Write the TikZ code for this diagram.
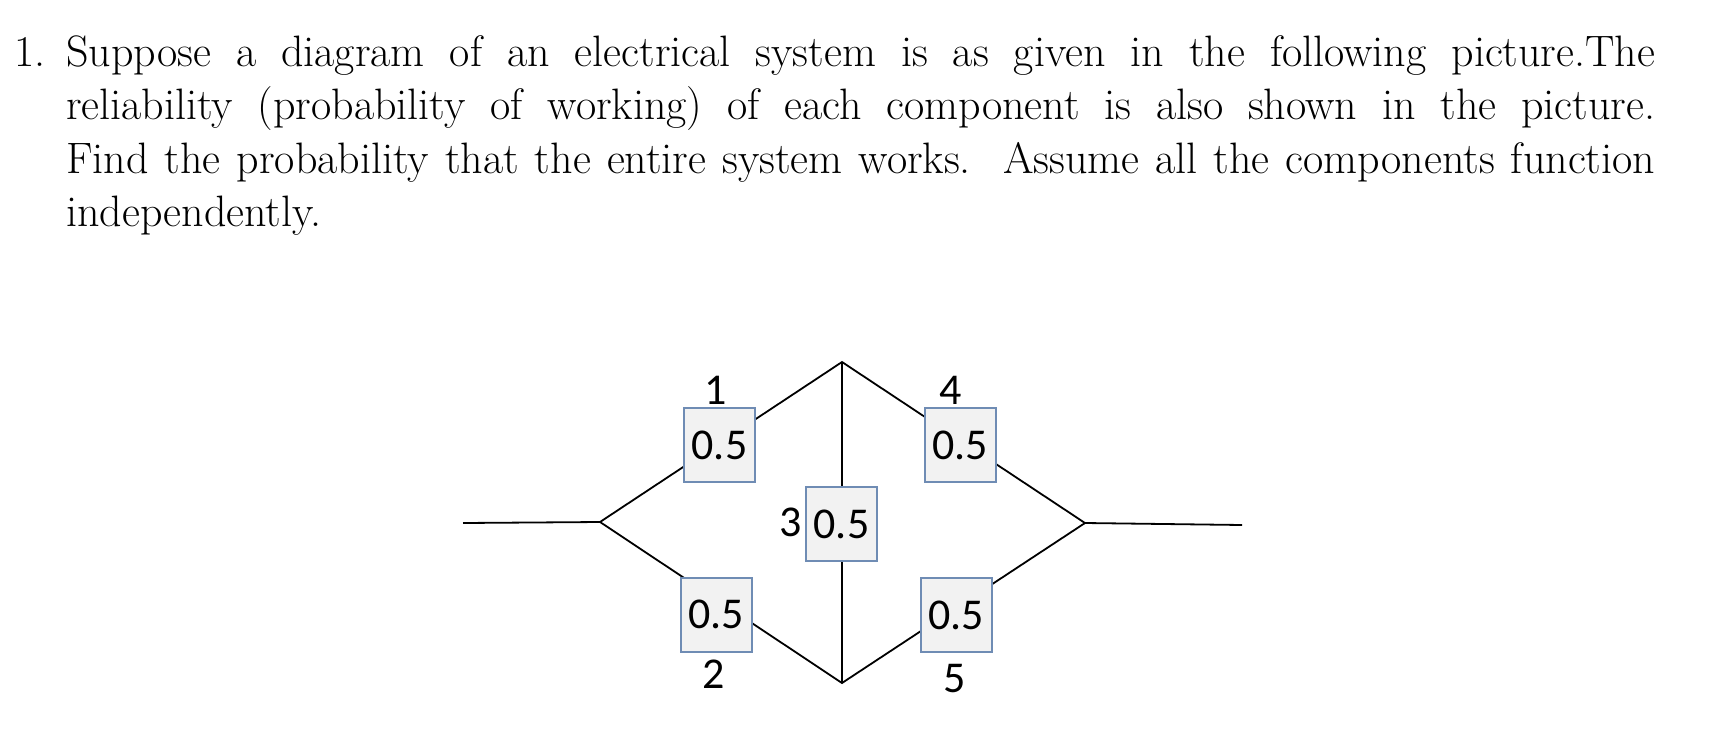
\documentclass[tikz,border=0pt]{standalone}
\usepackage{fontspec}
\newfontfamily\carlitofont{Carlito}
\definecolor{boxfill}{HTML}{F2F2F2}
\definecolor{boxline}{HTML}{6F8CB4}
\begin{document}
\begin{tikzpicture}[x=1pt,y=-1pt,
  comp/.style={draw=boxline,line width=2pt,fill=boxfill,minimum width=71pt,minimum height=74pt,inner sep=0pt,font=\carlitofont\fontsize{44}{44}\selectfont},
  lbl/.style={inner sep=0pt,font=\carlitofont\fontsize{44}{44}\selectfont},
  txtline/.style={anchor=base west,inner sep=0pt,font=\fontsize{44}{53.5}\selectfont},
  wire/.style={line width=1.8pt,black}]
\useasboundingbox (0,0) rectangle (1729,739);
\node[txtline] (n1) at (14,66) {1.};
\node[txtline] (t1) at (66,66) {\makebox[1589pt][s]{Suppose a diagram of an electrical system is as given in the following picture.The}};
\node[txtline] (t2) at (66,119.5) {\makebox[1589pt][s]{reliability (probability of working) of each component is also shown in the picture.}};
\node[txtline] (t3) at (66,173) {\makebox[1589pt][s]{Find the probability that the entire system works.\ \ Assume all the components function}};
\node[txtline] (t4) at (66,226.5) {independently.};
\coordinate (inL) at (463,523);
\coordinate (sL) at (600,522);
\coordinate (top) at (842,362);
\coordinate (bot) at (842,683);
\coordinate (sR) at (1085,523);
\coordinate (outR) at (1242,525);
\draw[wire] (inL) -- (sL) -- (top) -- (sR) -- (bot) -- (sL);
\draw[wire] (sR) -- (outR);
\draw[wire] (top) -- (bot);
\node[comp] (c1) at (719.5,445) {0.5};
\node[comp] (c4) at (960,445) {0.5};
\node[comp] (c3) at (841.5,524) {0.5};
\node[comp] (c2) at (716,614.5) {0.5};
\node[comp] (c5) at (956,615) {0.5};
\node[lbl] (l1) at (716,390) {1};
\node[lbl] (l4) at (951,390) {4};
\node[lbl] (l3) at (791,522) {3};
\node[lbl] (l2) at (714,674) {2};
\node[lbl] (l5) at (955,679) {5};
\end{tikzpicture}
\end{document}
